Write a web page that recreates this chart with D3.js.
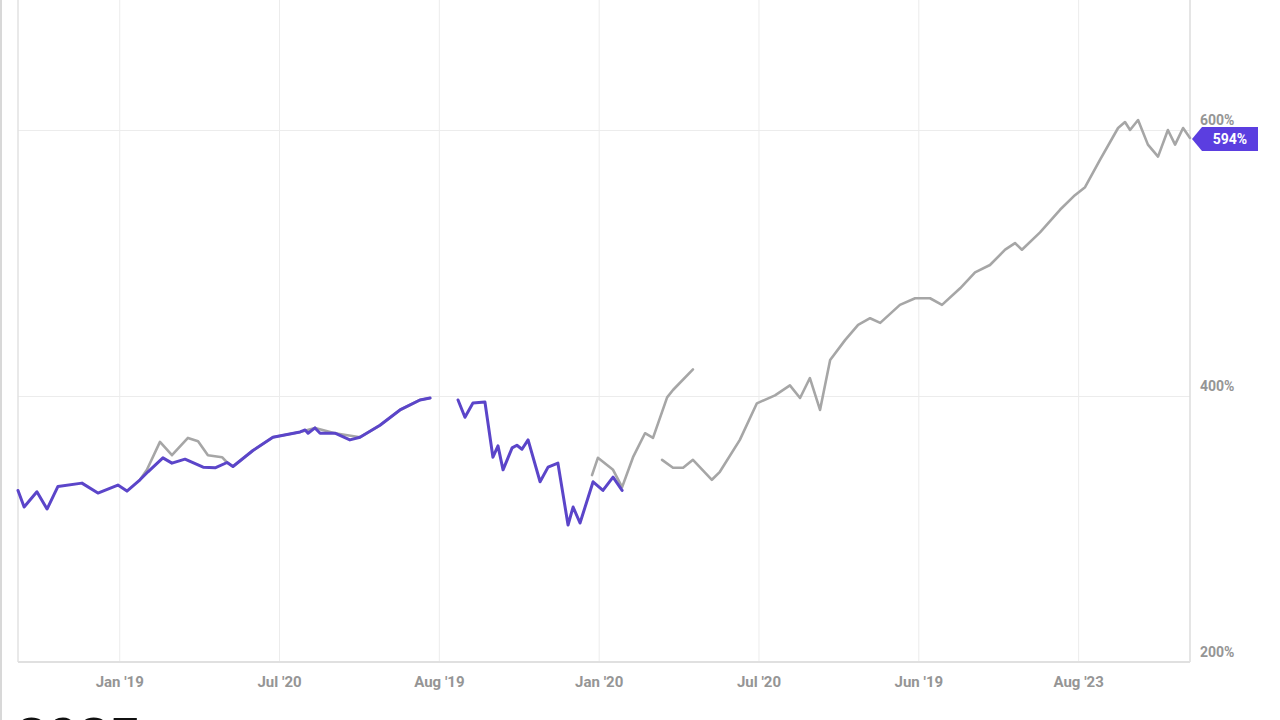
<!DOCTYPE html>
<html>
<head>
<meta charset="utf-8">
<script src="https://cdn.jsdelivr.net/npm/d3@7"></script>
<style>
  html, body { margin: 0; padding: 0; background: #fff; overflow: hidden; }
  svg { display: block; }
</style>
</head>
<body>
<svg id="chart" width="1280" height="720"></svg>
<script>
// ---- Data (month index since start, percent value) ----
const tickMonths = [3.8, 9.8, 15.8, 21.8, 27.8, 33.8, 39.8];
const tickLabels = ["Jan '19", "Jul '20", "Aug '19", "Jan '20", "Jul '20", "Jun '19", "Aug '23"];
const yTicks = [200, 400, 600];
const yTickLabels = ["200%", "400%", "600%"];
const lastValueLabel = "594%";
const bigLabel = "2025";

// Purple series (two runs, gap between)
const purpleA = [
  [0, 329], [0.23, 316.5], [0.71, 328], [1.09, 315], [1.5, 332], [2.4, 334.5],
  [3.0, 327], [3.75, 333], [4.09, 328.5], [4.58, 337], [4.88, 343], [5.44, 353.5],
  [5.78, 349.5], [6.27, 352.5], [6.95, 346.5], [7.4, 346], [7.85, 350], [8.07, 347],
  [8.82, 359], [9.57, 369], [10.59, 373], [10.78, 374.5], [10.89, 372], [11.15, 376],
  [11.34, 372], [11.9, 372], [12.46, 367], [12.84, 369], [13.59, 378], [14.34, 389.5],
  [15.09, 397], [15.47, 398.5]
];
const purpleB = [
  [16.52, 397], [16.78, 384], [17.08, 394.7], [17.53, 395.5], [17.83, 354], [18.02, 362.5],
  [18.21, 344.5], [18.55, 361], [18.73, 363], [18.92, 360], [19.15, 367], [19.6, 335.5],
  [19.9, 346.5], [20.27, 349.5], [20.65, 303], [20.84, 316.5], [21.1, 304.5], [21.59, 335.5],
  [21.96, 329], [22.34, 339], [22.68, 329]
];
// Gray series (three runs)
const grayA = [
  [4.58, 337], [4.84, 344.5], [5.33, 365.5], [5.78, 355.5], [6.38, 368.5], [6.76, 366],
  [7.13, 355.5], [7.66, 354], [7.85, 350], [8.07, 347], [8.82, 359], [9.57, 369],
  [10.59, 373], [11.15, 376], [11.9, 372], [12.84, 369], [13.59, 378], [14.34, 389.5],
  [15.09, 397], [15.47, 398.5]
];
const grayB = [
  [21.55, 340.5], [21.77, 353.5], [22.34, 344.5], [22.68, 331.5], [23.09, 354],
  [23.54, 372], [23.84, 368.5], [24.37, 399], [24.59, 404.5], [25.34, 420]
];
const grayC = [
  [24.18, 352], [24.59, 346], [24.97, 346], [25.34, 352], [26.05, 337], [26.35, 343],
  [27.1, 367], [27.74, 394.5], [28.42, 400.5], [28.98, 408], [29.36, 398.5], [29.73, 413.5],
  [30.11, 389.5], [30.49, 427], [31.05, 442], [31.54, 453.5], [31.99, 458.5], [32.37, 455],
  [33.11, 468.5], [33.68, 473.5], [34.24, 473.5], [34.69, 468.5], [35.37, 481], [35.93, 493],
  [36.49, 498.5], [37.06, 510], [37.43, 515], [37.69, 510], [38.37, 523], [39.12, 540],
  [39.68, 551], [40.06, 557], [40.62, 577.5], [41.3, 601.5], [41.56, 606], [41.75, 600],
  [42.05, 607.5], [42.42, 589], [42.8, 580], [43.17, 600], [43.44, 589], [43.74, 601.5],
  [44, 594]
];

// ---- Layout ----
const svg = d3.select("#chart");
const mLeft = 18, mRight = 1190, mTop = 0, mBottom = 662;
const x = d3.scaleLinear().domain([0, 44]).range([mLeft, mRight]);
const y = d3.scaleLinear().domain([200, 600]).range([mBottom, 130]);

const textColor = "#959595";
const gridColor = "#ececec";

// page left edge
svg.append("line").attr("x1", 1).attr("x2", 1).attr("y1", 0).attr("y2", 720)
  .attr("stroke", "#d8d8d8").attr("stroke-width", 2);

// vertical gridlines via axis
const xGrid = d3.axisBottom(x).tickValues(tickMonths).tickSize(-(mBottom - mTop)).tickFormat("");
svg.append("g").attr("transform", `translate(0,${mBottom})`).call(xGrid)
  .call(g => g.select(".domain").remove())
  .call(g => g.selectAll("line").attr("stroke", gridColor).attr("stroke-width", 1));

// horizontal gridlines
const yGrid = d3.axisRight(y).tickValues(yTicks.filter(v => v > 200)).tickSize(mRight - mLeft).tickFormat("");
svg.append("g").attr("transform", `translate(${mLeft},0)`).call(yGrid)
  .call(g => g.select(".domain").remove())
  .call(g => g.selectAll("line").attr("stroke", gridColor).attr("stroke-width", 1.2));

// frame lines
svg.append("line").attr("x1", mLeft).attr("x2", mLeft).attr("y1", 0).attr("y2", mBottom)
  .attr("stroke", "#e2e2e2").attr("stroke-width", 1.5);
svg.append("line").attr("x1", mRight).attr("x2", mRight).attr("y1", 0).attr("y2", mBottom)
  .attr("stroke", "#dcdcdc").attr("stroke-width", 1.5);
svg.append("line").attr("x1", mLeft).attr("x2", mRight).attr("y1", mBottom).attr("y2", mBottom)
  .attr("stroke", "#e0e0e0").attr("stroke-width", 2);

// x axis labels
const xAxis = d3.axisBottom(x).tickValues(tickMonths).tickSize(0).tickPadding(14)
  .tickFormat((d, i) => tickLabels[i]);
svg.append("g").attr("transform", `translate(0,${mBottom})`).call(xAxis)
  .call(g => g.select(".domain").remove())
  .call(g => g.selectAll("text").attr("fill", textColor)
    .style("font-family", "Roboto, 'Liberation Sans', sans-serif")
    .style("font-size", "15px").style("font-weight", "700"));

// y axis labels (right side, above the gridline)
const yAxis = d3.axisRight(y).tickValues(yTicks).tickSize(0).tickPadding(10)
  .tickFormat((d, i) => yTickLabels[i]);
svg.append("g").attr("transform", `translate(${mRight},0)`).call(yAxis)
  .call(g => g.select(".domain").remove())
  .call(g => g.selectAll("text").attr("fill", textColor).attr("dy", "-0.4em")
    .style("font-family", "Roboto, 'Liberation Sans', sans-serif")
    .style("font-size", "14px").style("font-weight", "700"));

// lines
const line = d3.line().x(d => x(d[0])).y(d => y(d[1])).curve(d3.curveLinear);
const grayColor = "#a6a6a6";
const purple = "#5b45c9";
[grayA, grayB, grayC].forEach(s => {
  svg.append("path").datum(s).attr("d", line).attr("fill", "none")
    .attr("stroke", grayColor).attr("stroke-width", 2.6)
    .attr("stroke-linejoin", "round").attr("stroke-linecap", "round");
});
[purpleA, purpleB].forEach(s => {
  svg.append("path").datum(s).attr("d", line).attr("fill", "none")
    .attr("stroke", purple).attr("stroke-width", 3)
    .attr("stroke-linejoin", "round").attr("stroke-linecap", "round");
});

// last-value badge
const last = grayC[grayC.length - 1];
const by = y(last[1]) + 1;
const bx = mRight + 2;
const badge = svg.append("g");
badge.append("path")
  .attr("d", `M${bx},${by} L${bx + 10},${by - 12} L${bx + 66},${by - 12} L${bx + 66},${by + 12} L${bx + 10},${by + 12} Z`)
  .attr("fill", "#5b3ee0");
badge.append("text").attr("x", bx + 38).attr("y", by + 5).attr("text-anchor", "middle")
  .attr("fill", "#fff").style("font-family", "Roboto, 'Liberation Sans', sans-serif")
  .style("font-size", "14px").style("font-weight", "700").text(lastValueLabel);

// big cut-off label at bottom-left (cropped by the frame edge, as in the reference)
svg.append("text").attr("x", 16).attr("y", 756)
  .attr("fill", "#111").style("font-family", "'Liberation Sans', Arial, sans-serif")
  .style("font-size", "56px").style("font-weight", "700").text(bigLabel);
</script>
</body>
</html>
